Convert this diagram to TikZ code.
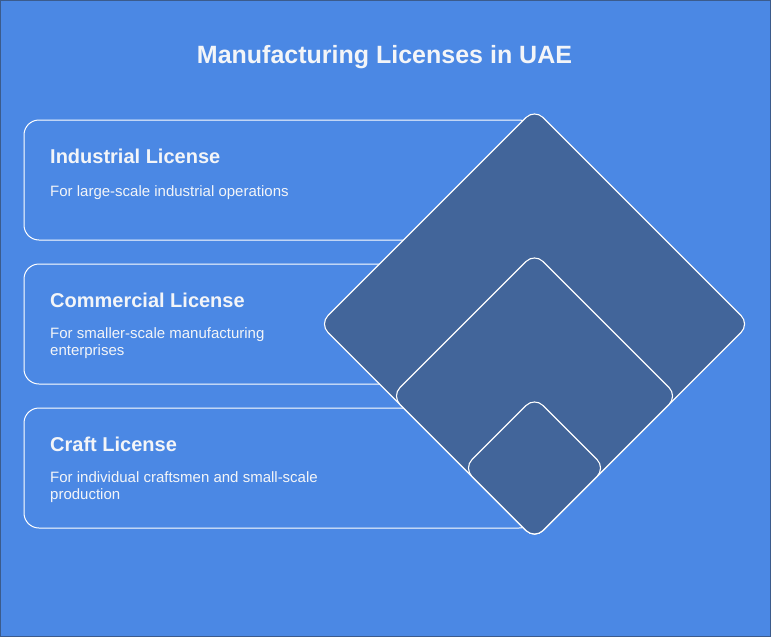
\documentclass[tikz,border=0pt]{standalone}
\usepackage{fontspec}
\setmainfont{Liberation Sans}
\definecolor{bgblue}{HTML}{4B88E4}
\definecolor{dia}{HTML}{42659A}
\definecolor{frame}{HTML}{3B5B8C}
\definecolor{txt}{HTML}{F3F5F8}
\begin{document}
\begin{tikzpicture}[x=1pt,y=-1pt,
  card/.style={draw=white,line width=1pt,rounded corners=15pt,minimum width=510pt,minimum height=120pt,inner sep=0pt},
  head/.style={anchor=base west,inner sep=0pt,text=txt,font=\fontsize{20}{24}\selectfont\bfseries},
  desc/.style={anchor=base west,inner sep=0pt,text=txt,font=\fontsize{15}{18}\selectfont},
  diamond shape/.style={draw=white,fill=dia,line width=1.1pt,rounded corners=12pt}]
\fill[bgblue] (0,0) rectangle (771,637);
\useasboundingbox (0,0) rectangle (771,637);
\draw[frame,line width=1.2pt] (0.6,0.6) rectangle (770.4,636.4);
\node[anchor=base,inner sep=0pt,text=txt,font=\fontsize{25}{30}\selectfont\bfseries] (title) at (384.5,63) {Manufacturing Licenses in UAE};
% cards
\node[card] (c1) at (279,180) {};
\node[card] (c2) at (279,324) {};
\node[card] (c3) at (279,468) {};
% diamonds
\draw[diamond shape] (534.5,109) -- (749.5,324) -- (534.5,539) -- (319.5,324) -- cycle;
\draw[diamond shape] (534.5,253) -- (677.5,396) -- (534.5,539) -- (391.5,396) -- cycle;
\draw[diamond shape] (534.5,397) -- (605.5,468) -- (534.5,539) -- (463.5,468) -- cycle;
% texts
\node[head] (h1) at (50,163) {Industrial License};
\node[desc] (d1) at (50,196) {For large-scale industrial operations};
\node[head] (h2) at (50,307) {Commercial License};
\node[desc] (d2a) at (50,338) {For smaller-scale manufacturing};
\node[desc] (d2b) at (50,355.5) {enterprises};
\node[head] (h3) at (50,451) {Craft License};
\node[desc] (d3a) at (50,482) {For individual craftsmen and small-scale};
\node[desc] (d3b) at (50,499.5) {production};
\end{tikzpicture}
\end{document}
